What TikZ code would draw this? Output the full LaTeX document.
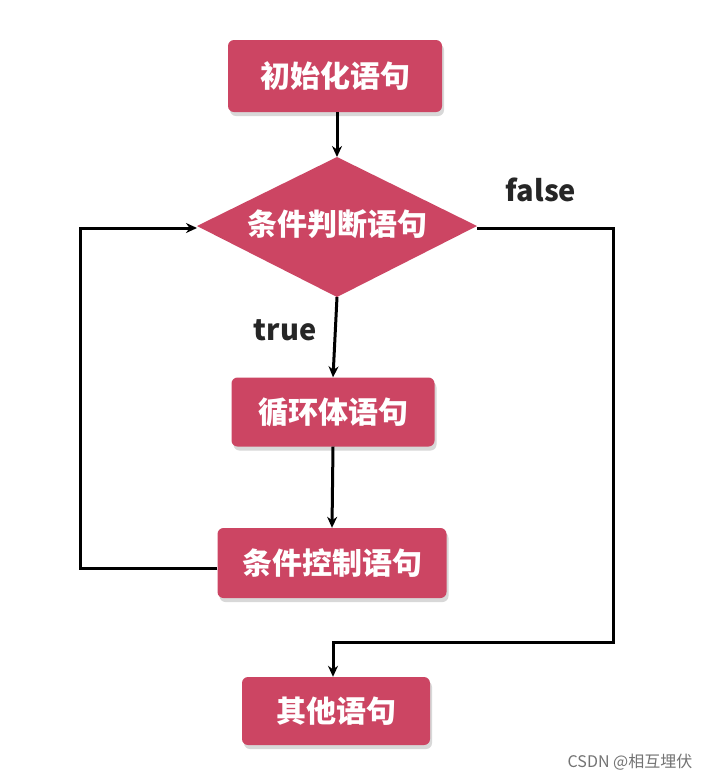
\documentclass[tikz,border=0pt]{standalone}
\usepackage{fontspec}
\setmainfont{Noto Sans CJK SC}
\usetikzlibrary{shapes.geometric,arrows.meta,shadows}
\definecolor{boxred}{HTML}{CC4563}
\definecolor{shad}{HTML}{D8D8D8}
\begin{document}
\begin{tikzpicture}[x=1pt,y=-1pt,
  box/.style={fill=boxred,rounded corners=6pt,text=white,font=\fontsize{30}{34}\selectfont\bfseries,inner sep=0pt,
     drop shadow={shadow xshift=2pt,shadow yshift=-4pt,fill=shad,opacity=1}},
  arr/.style={line width=3pt,-{Stealth[length=11pt,width=10pt]}},
  lbl/.style={font=\fontsize{29}{33}\selectfont\bfseries,text=black!85}]
\useasboundingbox (0,0) rectangle (704,780);
\fill[white] (0,0) rectangle (704,780);
\node[box,minimum width=214pt,minimum height=72pt] (init) at (335,76) {初始化语句};
\fill[boxred] (197,226) -- (337,157) -- (477,226) -- (337,297) -- cycle;
\node[text=white,font=\fontsize{30}{34}\selectfont\bfseries] (condt) at (337,224) {条件判断语句};
\coordinate (ctop) at (337,157);
\coordinate (cbot) at (337,297);
\coordinate (cleft) at (197,228);
\coordinate (cright) at (477,228);
\node[box,minimum width=203pt,minimum height=69pt] (body) at (333,412) {循环体语句};
\node[box,minimum width=229pt,minimum height=70pt] (ctrl) at (332,563) {条件控制语句};
\node[box,minimum width=188pt,minimum height=68pt] (other) at (336,711) {其他语句};
\draw[arr] (init.south -| ctop) -- (ctop);
\draw[arr] (cbot) -- (body.north);
\draw[arr] (body.south) -- (ctrl.north);
\coordinate (l1) at (80,568);
\coordinate (l2) at (80,228);
\draw[arr] (ctrl.west |- l1) -- (l1) -- (l2) -- (cleft);
\coordinate (r1) at (613,228);
\coordinate (r2) at (613,642);
\coordinate (r3) at (333,642);
\draw[arr] (cright) -- (r1) -- (r2) -- (r3) -- (other.north -| r3);
\node[lbl] (f) at (541,190) {false};
\node[lbl] (t) at (285,330) {true};
\node[font=\fontsize{16}{18}\selectfont,text=black!55] (wm) at (630,762) {CSDN @相互埋伏};
\end{tikzpicture}
\end{document}
